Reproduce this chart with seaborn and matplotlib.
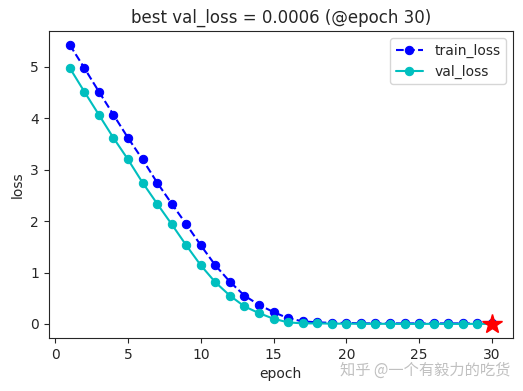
import matplotlib
matplotlib.use('Agg')
import matplotlib.pyplot as plt
import seaborn as sns

# loss values
epochs = list(range(1, 31))
train_loss = [5.43, 4.98, 4.52, 4.07, 3.62, 3.20, 2.75, 2.34, 1.94, 1.53,
              1.14, 0.82, 0.55, 0.37, 0.23, 0.11, 0.05, 0.03, 0.02, 0.02,
              0.01, 0.01, 0.01, 0.01, 0.01, 0.01, 0.01, 0.01, 0.01, 0.01]
val_loss = [4.98, 4.52, 4.07, 3.62, 3.20, 2.75, 2.34, 1.94, 1.53, 1.14,
            0.81, 0.55, 0.34, 0.21, 0.10, 0.03, 0.01, 0.01, 0.005, 0.005,
            0.003, 0.002, 0.002, 0.001, 0.001, 0.001, 0.001, 0.001, 0.001, 0.0006]
best_epoch = 30
best_val = 0.0006

sns.set_style('ticks')
plt.rcParams['font.family'] = ['DejaVu Sans', 'Noto Sans CJK SC']

fig, ax = plt.subplots(figsize=(5.23, 3.91), dpi=100)

sns.lineplot(x=epochs, y=train_loss, ax=ax, color='b', linestyle='--', marker='o',
             markersize=6, markeredgecolor='b', label='train_loss')
sns.lineplot(x=epochs, y=val_loss, ax=ax, color='c', linestyle='-', marker='o',
             markersize=6, markeredgecolor='c', label='val_loss')
ax.plot([best_epoch], [best_val], marker='*', color='r', markersize=15, linestyle='none')

ax.set_title('best val_loss = %.4f (@epoch %d)' % (best_val, best_epoch), fontsize=12)
ax.set_xlabel('epoch')
ax.set_ylabel('loss')
ax.set_xticks([0, 5, 10, 15, 20, 25, 30])
ax.legend(loc='upper right')
for s in ax.spines.values():
    s.set_visible(True)

# watermark
fig.text(0.976, 0.052, '知乎 @一个有毅力的吃货', ha='right', va='center', fontsize=11,
         color='#c0c0c0', family=['Noto Sans CJK SC', 'DejaVu Sans'])

plt.subplots_adjust(left=0.093, right=0.981, bottom=0.136, top=0.921)
plt.savefig('out.png')
